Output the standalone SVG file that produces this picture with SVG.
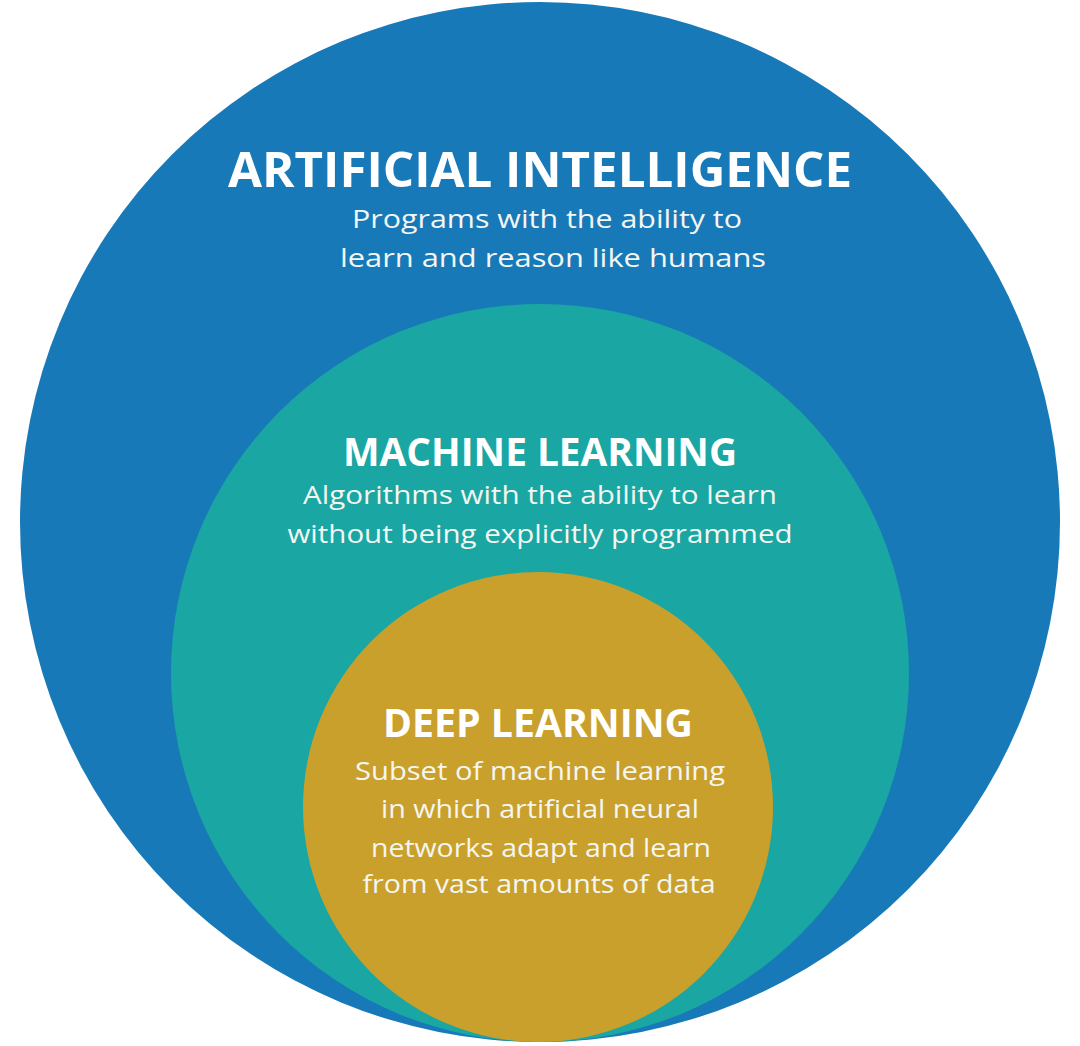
<svg xmlns="http://www.w3.org/2000/svg" width="1080" height="1046" viewBox="0 0 1080 1046">
<style>
.h{font-family:"Open Sans","Liberation Sans",sans-serif;font-weight:700;fill:#ffffff;text-anchor:middle}
.b{font-family:"Open Sans","Liberation Sans",sans-serif;font-weight:400;fill:#f4f6f2;text-anchor:middle}
</style>
<rect width="1080" height="1046" fill="#ffffff"/>
<g id="ai">
<circle cx="540" cy="522" r="520" fill="#1879b9"/>
<text class="h" x="540" y="187" font-size="49" textLength="624" lengthAdjust="spacingAndGlyphs">ARTIFICIAL INTELLIGENCE</text>
<text class="b" x="547" y="228" font-size="25" textLength="390" lengthAdjust="spacingAndGlyphs">Programs with the ability to</text>
<text class="b" x="553" y="267" font-size="25" textLength="426" lengthAdjust="spacingAndGlyphs">learn and reason like humans</text>
</g>
<g id="ml">
<circle cx="540" cy="673" r="369" fill="#1aa6a2"/>
<text class="h" x="540" y="466" font-size="40" textLength="394" lengthAdjust="spacingAndGlyphs">MACHINE LEARNING</text>
<text class="b" x="540" y="504" font-size="25" textLength="474" lengthAdjust="spacingAndGlyphs">Algorithms with the ability to learn</text>
<text class="b" x="540" y="543" font-size="25" textLength="505" lengthAdjust="spacingAndGlyphs">without being explicitly programmed</text>
</g>
<g id="dl">
<circle cx="538" cy="807" r="235" fill="#c9a02c"/>
<text class="h" x="538" y="737" font-size="40" textLength="310" lengthAdjust="spacingAndGlyphs">DEEP LEARNING</text>
<text class="b" x="540" y="780" font-size="25" textLength="370" lengthAdjust="spacingAndGlyphs">Subset of machine learning</text>
<text class="b" x="540" y="818" font-size="25" textLength="318" lengthAdjust="spacingAndGlyphs">in which artificial neural</text>
<text class="b" x="541" y="857" font-size="25" textLength="340" lengthAdjust="spacingAndGlyphs">networks adapt and learn</text>
<text class="b" x="539" y="893" font-size="25" textLength="353" lengthAdjust="spacingAndGlyphs">from vast amounts of data</text>
</g>
<g id="connectors"/>
</svg>
